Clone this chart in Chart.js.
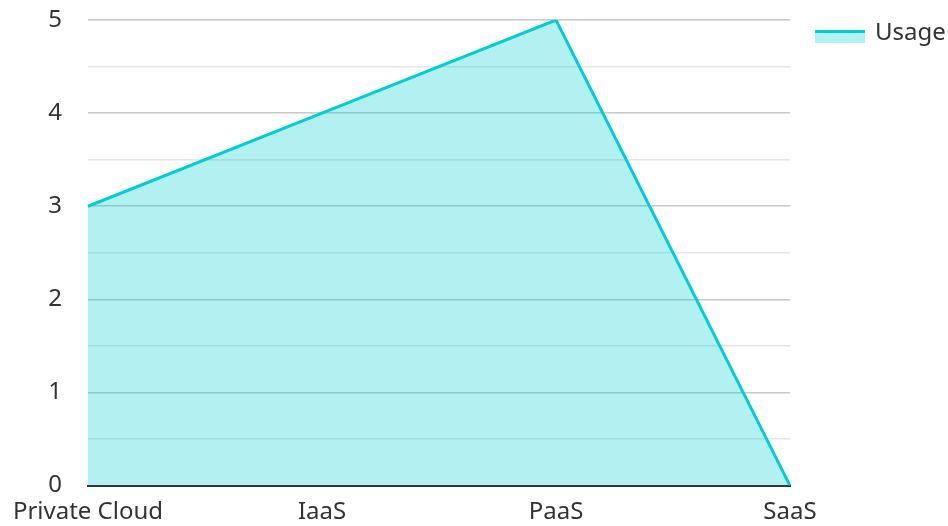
<!DOCTYPE html>
<html>
<head>
<meta charset="utf-8">
<script src="https://cdn.jsdelivr.net/npm/chart.js@4"></script>
<style>
html,body{margin:0;padding:0;background:#fff;}
#wrap{width:948px;height:526px;position:relative;}
</style>
</head>
<body>
<div id="wrap"><canvas id="c" width="948" height="526"></canvas></div>
<script>
const categories = ["Private Cloud", "IaaS", "PaaS", "SaaS"];
const usage = [3, 4, 5, 0];
const seriesName = "Usage";
const yTicks = [0, 1, 2, 3, 4, 5];

const LINE = "#00CED1";
const FILL = "rgba(0,206,209,0.3)";
const FONT = "'Noto Sans', 'Open Sans', sans-serif";

// legend drawn at the right of the chart area, from the dataset's label/colors
const sideLegend = {
  id: "sideLegend",
  afterDraw(chart) {
    const ctx = chart.ctx;
    const area = chart.chartArea;
    const x0 = area.right + 25, y0 = 30;
    chart.data.datasets.forEach((ds, i) => {
      const y = y0 + i * 34;
      ctx.save();
      ctx.fillStyle = ds.backgroundColor;
      ctx.fillRect(x0, y, 50, 13);
      ctx.fillStyle = ds.borderColor;
      ctx.fillRect(x0, y, 50, 3);
      ctx.font = "24px " + FONT;
      ctx.fillStyle = "#333";
      ctx.textBaseline = "middle";
      ctx.textAlign = "left";
      ctx.fillText(ds.label, x0 + 60, y + 3);
      ctx.restore();
    });
  }
};

new Chart(document.getElementById("c"), {
  type: "line",
  data: {
    labels: categories,
    datasets: [{
      label: seriesName,
      data: usage,
      borderColor: LINE,
      backgroundColor: FILL,
      borderWidth: 3,
      fill: "origin",
      pointRadius: 0,
      tension: 0
    }]
  },
  options: {
    responsive: false,
    animation: false,
    layout: { padding: { top: 0, right: 158, bottom: 0, left: 0 } },
    plugins: {
      tooltip: { enabled: false },
      legend: { display: false }
    },
    scales: {
      x: {
        afterFit: (s) => { s.height = 38; },
        grid: { display: false, drawTicks: false },
        border: { display: true, color: "#333", width: 2 },
        ticks: { font: { family: FONT, size: 24 }, color: "#333", padding: 12, maxRotation: 0 }
      },
      y: {
        min: 0, max: 5,
        afterFit: (s) => { s.width = 88; s.paddingTop = 20; },
        grid: {
          drawTicks: false,
          color: (ctx) => (ctx.tick && Number.isInteger(ctx.tick.value)) ? "#c8c8c8" : "#e6e6e6",
          lineWidth: 1.5
        },
        border: { display: false },
        ticks: {
          stepSize: 0.5,
          padding: 26,
          font: { family: FONT, size: 24 },
          color: "#333",
          callback: (v) => yTicks.includes(v) ? String(v) : ""
        }
      }
    }
  },
  plugins: [sideLegend]
});
</script>
</body>
</html>
